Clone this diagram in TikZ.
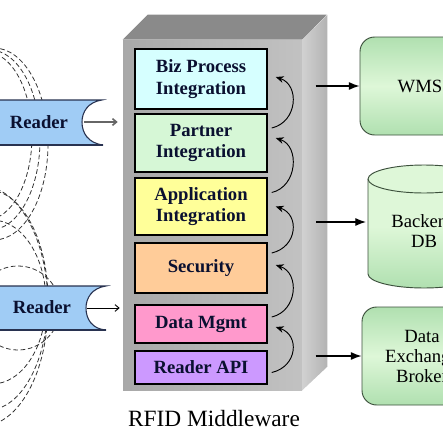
\documentclass[tikz,border=0pt]{standalone}
\usepackage{tikz}
\usepackage{xcolor}
\usepackage{fontspec}
\setmainfont{Liberation Serif}
\usetikzlibrary{arrows.meta,calc}

\definecolor{bizfill}{RGB}{214,255,255}
\definecolor{partnerfill}{RGB}{214,247,214}
\definecolor{appfill}{RGB}{255,255,153}
\definecolor{secfill}{RGB}{255,204,153}
\definecolor{datafill}{RGB}{255,153,204}
\definecolor{apifill}{RGB}{204,153,255}
\definecolor{readerfill}{RGB}{160,204,245}
\definecolor{readeredge}{RGB}{40,50,80}
\definecolor{inktext}{RGB}{10,16,48}
\definecolor{boxgreen}{RGB}{176,224,176}
\definecolor{boxlight}{RGB}{222,247,216}
\definecolor{boxedge}{RGB}{60,80,60}
\definecolor{topgray}{RGB}{138,138,138}

\tikzset{
  layer/.style={draw=black, line width=1.1pt, minimum width=99pt, inner sep=0pt,
    align=center, text=inktext, font=\fontsize{14}{16}\selectfont\bfseries},
  uparc/.style={-{Stealth[length=6pt,width=5pt]}, line width=0.7pt},
  ring/.style={draw=black!80, line width=0.6pt, dash pattern=on 3.5pt off 2pt},
  readertab/.style={fill=readerfill, draw=readeredge, line width=0.8pt},
  readerlabel/.style={text=inktext, font=\fontsize{14}{16}\selectfont\bfseries},
  inarrow/.style={-{Straight Barb[length=3pt,width=5pt]}, line width=0.9pt},
  greenbox/.style={draw=boxedge, line width=0.7pt, rounded corners=11pt,
    top color=boxgreen, bottom color=boxgreen, middle color=boxlight,
    minimum width=90pt, minimum height=73.5pt, align=center,
    font=\fontsize{14}{15}\selectfont},
  outarrow/.style={-{Latex[length=8pt,width=6pt]}, line width=0.9pt}
}

\begin{document}
\begin{tikzpicture}[x=0.75pt,y=0.75pt,yscale=-1,xscale=1]
\useasboundingbox (0,0) rectangle (443,443);
\clip (0,0) rectangle (443,443);

%Shape: dashed rings round the readers
\draw[ring] (-10,140) ellipse (50 and 90);
\draw[ring] (-14,136) ellipse (46 and 84);
\draw[ring] (-6,144) ellipse (54 and 96);
\draw[ring] (18,308) circle (42);
\draw[ring] (-8,302) ellipse (54 and 82);
\draw[ring] (-12,300) ellipse (60 and 110);
\draw[ring] (-18,306) ellipse (66 and 120);

%Shape: middleware block, front face
\node[inner sep=0pt, minimum width=134.25pt, minimum height=262.5pt,
  left color=black!34, right color=black!24] (mw) at (212.5,215) {};
%Shape: top face
\fill[topgray] (mw.north west) -- ++(25,-25) -- ++(179,0) -- (mw.north east) -- cycle;
%Shape: side face
\shade[left color=black!18, right color=black!30] (mw.north east) -- ++(25,-25) -- ++(0,352) -- (mw.south east) -- cycle;

% Layers
\node[layer, fill=bizfill, minimum height=45pt] (biz) at (201,79) {Biz Process\\Integration};
\node[layer, fill=partnerfill, minimum height=43.5pt] (partner) at (201,143) {Partner\\Integration};
\node[layer, fill=appfill, minimum height=42.75pt] (app) at (201,206.5) {Application\\Integration};
\node[layer, fill=secfill, minimum height=37.5pt] (sec) at (201,268) {Security};
\node[layer, fill=datafill, minimum height=28.5pt] (data) at (201,324) {Data Mgmt};
\node[layer, fill=apifill, minimum height=24.75pt] (api) at (201,367.5) {Reader API};

% Curved arrows between layers
\foreach \lo/\up/\ls/\ue in {partner/biz/-15/-2, app/partner/-14/-5, sec/app/-15/0, data/sec/-7/-3, api/data/5/3}
  \draw[uparc] ($(\lo.east)+(4,\ls)$) .. controls +(26,-6) and +(24,8) .. ($(\up.east)+(8,\ue)$);

%Shape: reader tabs
\draw[readertab] (0,100) -- (102,100) .. controls (88,102) and (82,112) .. (82,122)
  .. controls (82,133) and (88,143) .. (103,145) -- (0,145);
\draw[readeredge, line width=1.4pt] (0,145) -- (103,145);
\draw[readertab] (0,286) -- (106,286) .. controls (92,288) and (86,298) .. (86,308)
  .. controls (86,319) and (92,329) .. (106,330) -- (0,330);
\draw[readeredge, line width=1.4pt] (0,330) -- (106,330);

% Text Node
\node[readerlabel] (rd1) at (39,122) {Reader};
% Text Node
\node[readerlabel] (rd2) at (42,307) {Reader};
\coordinate (notch1) at (84,122);
\coordinate (notch2) at (87,308);
\draw[inarrow, draw=black!60, line width=1.2pt] (notch1) -- ($(mw.west |- notch1)+(-5,0)$);
\draw[inarrow, line width=0.7pt] (notch2) -- ($(mw.west |- notch2)+(-3,0)$);

% Back-end systems
\node[greenbox] (wms) at (420,86) {WMS};
\node[greenbox] (broker) at (422,356) {Data\\Exchange\\Broker};
%Shape: cylinder
\path[draw=boxedge, line width=0.7pt, top color=boxlight, bottom color=boxgreen, middle color=boxlight]
  (368,179) -- (368,274) arc (180:0:56 and 14) -- (480,179) arc (0:-180:56 and 14) -- cycle;
\draw[boxedge, line width=0.7pt] (368,179) arc (180:0:56 and 14);
\node[align=center, font=\fontsize{14}{14.5}\selectfont] (db) at (424,231) {Backend\\DB};
\coordinate (dbleft) at (368,222);

\draw[outarrow] ($(wms.west)+(-44,0)$) -- (wms.west);
\draw[outarrow] ($(dbleft)+(-52,0)$) -- ($(dbleft)+(-2,0)$);
\draw[outarrow] ($(broker.west)+(-46,0)$) -- (broker.west);

% Text Node
\node[font=\fontsize{17.5}{20}\selectfont] (cap) at (214,419) {RFID Middleware};

\end{tikzpicture}
\end{document}
